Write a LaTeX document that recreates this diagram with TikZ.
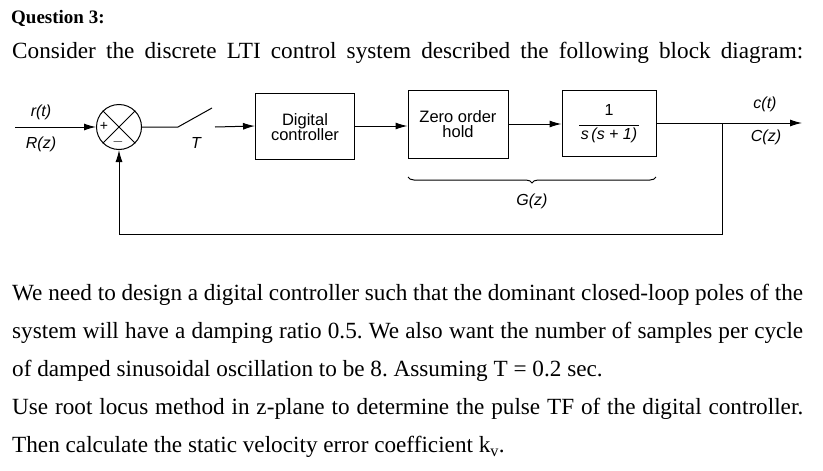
\documentclass[tikz,border=0pt]{standalone}
\usepackage{fontspec}
\setmainfont{Liberation Serif}
\newfontfamily\dfont{Liberation Sans}
\usetikzlibrary{arrows.meta,decorations.pathreplacing}
\frenchspacing
\begin{document}
\begin{tikzpicture}[x=1pt,y=-1pt,
  blk/.style={draw,line width=1pt,inner sep=0pt},
  sig/.style={line width=1pt},
  arr/.style={line width=1pt,-{Latex[length=12pt,width=7pt]}},
  dl/.style={font=\dfont\fontsize{16}{17}\selectfont\itshape,inner sep=0pt},
  bt/.style={font=\dfont\fontsize{16.5}{18}\selectfont,align=center,inner sep=0pt},
  para/.style={anchor=west,inner sep=0pt,font=\fontsize{23.2}{26}\selectfont}]
\useasboundingbox (0,0) rectangle (823,471);
\node[anchor=west,inner sep=0pt,font=\fontsize{19}{22}\selectfont\bfseries] (q) at (11,18) {Question 3:};
\node[para] (l1) at (12,53) {\makebox[791pt][s]{Consider the discrete LTI control system described the following block diagram:}};
% diagram
\coordinate (in) at (15,127);
\node[draw,circle,line width=1pt,minimum size=45pt,inner sep=0pt] (sum) at (119,127) {};
\draw[sig] (sum.45) -- (sum.225) (sum.135) -- (sum.315);
\node[font=\dfont\fontsize{14}{14}\selectfont,inner sep=0pt] (plus) at (104,126) {+};
\node[font=\dfont\fontsize{14}{14}\selectfont,inner sep=0pt] (minus) at (118,142) {$-$};
\node[blk,minimum width=99pt,minimum height=66pt] (dc) at (305,126) {};
\node[bt] (dct) at (305,127) {Digital\\[-3pt]controller};
\node[blk,minimum width=100pt,minimum height=68pt] (zoh) at (458,124) {};
\node[bt] (zoht) at (458,124) {Zero order\\[-3pt]hold};
\node[blk,minimum width=94pt,minimum height=66pt] (pl) at (609,123) {};
\node[bt,font=\dfont\fontsize{16}{16}\selectfont\itshape] (plt) at (609,124) {\upshape 1\\[-6pt]\rule{60pt}{0.7pt}\\[-2pt]s\,(s + 1)};
\coordinate (s1) at (178,127);
\coordinate (s2) at (212,108);
\coordinate (s3) at (215,127);
\coordinate (j) at (722,123);
\coordinate (out) at (802,123);
\coordinate (fb1) at (722,234);
\coordinate (fb2) at (119,234);
\draw[arr] (in) -- (sum.west);
\draw[sig] (sum.east) -- (s1) -- (s2);
\draw[arr] (s3) -- (dc.west);
\draw[arr] (dc.east) -- (zoh.west |- dc.east);
\draw[arr] (zoh.east) -- (pl.west |- zoh.east);
\draw[arr] (pl.east) -- (out);
\draw[arr] (j) -- (fb1) -- (fb2) -- (sum.south);
\node[dl] (rt) at (41,112) {r(t)};
\node[dl] (rz) at (41,144) {R(z)};
\node[dl] (T) at (196,143) {T};
\node[dl] (ct) at (765,104) {c(t)};
\node[dl] (cz) at (766,137) {C(z)};
\coordinate (b1) at (408,177);
\coordinate (b2) at (656,177);
\draw[sig,decorate,decoration={brace,mirror,amplitude=6pt}] (b1) -- (b2);
\node[dl] (gz) at (532,201) {G(z)};
% paragraph
\node[para] (l2) at (12,295) {\makebox[791pt][s]{We need to design a digital controller such that the dominant closed-loop poles of the}};
\node[para] (l3) at (12,333) {\makebox[791pt][s]{system will have a damping ratio 0.5. We also want the number of samples per cycle}};
\node[para] (l4) at (12,371) {of damped sinusoidal oscillation to be 8. Assuming T = 0.2 sec.};
\node[para] (l5) at (12,409) {\makebox[791pt][s]{Use root locus method in z-plane to determine the pulse TF of the digital controller.}};
\node[para] (l6) at (12,447) {Then calculate the static velocity error coefficient k\textsubscript{v}.};
\end{tikzpicture}
\end{document}
